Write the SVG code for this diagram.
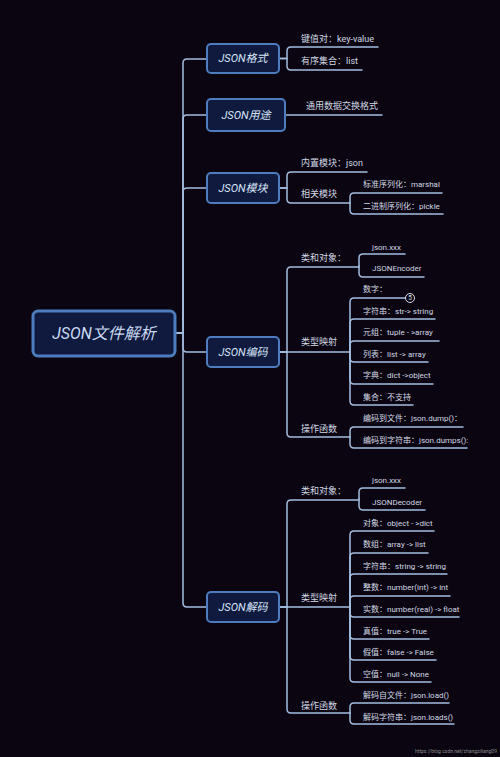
<svg xmlns="http://www.w3.org/2000/svg" width="500" height="757" viewBox="0 0 500 757">
<style>
.ln{fill:none;stroke:#a3bde0;stroke-width:1.5;stroke-linecap:round;stroke-linejoin:round}
.nd{fill:#0f1a3e;stroke:#4d7cbf;stroke-width:2}
text{font-family:Roboto,"Noto Sans CJK SC",sans-serif;dominant-baseline:central}
.t0{font-size:16px;font-style:italic;fill:#c9d9f2;text-anchor:middle}
.t1{font-size:11px;font-style:italic;fill:#d8e4f8;text-anchor:middle}
.t2{font-size:9px;fill:#d2d8e4}
.t3{font-size:8px;fill:#d2d8e4}
</style>
<rect width="500" height="757" fill="#0a0510"/>
<g id="connectors">
<path class="ln" d="M175,333 H183 V63 Q183,59 187,59 H207"/>
<path class="ln" d="M175,333 H183 V119 Q183,115 187,115 H207"/>
<path class="ln" d="M175,333 H183 V192 Q183,188 187,188 H207"/>
<path class="ln" d="M175,333 H183 V348 Q183,352 187,352 H207"/>
<path class="ln" d="M175,333 H183 V603 Q183,607 187,607 H207"/>
<path class="ln" d="M279,58.5 H287 V51 Q287,47 291,47 H378"/>
<path class="ln" d="M279,58.5 H287 V66 Q287,70 291,70 H362"/>
<path class="ln" d="M285,115 H382"/>
<path class="ln" d="M279,188 H287 V176 Q287,172 291,172 H367"/>
<path class="ln" d="M279,188 H287 V199 Q287,203 291,203 H350"/>
<path class="ln" d="M350,203 V197 Q350,193 354,193 H442"/>
<path class="ln" d="M350,203 V210 Q350,214 354,214 H443"/>
<path class="ln" d="M279,352 H287 V271 Q287,267 291,267 H359"/>
<path class="ln" d="M359,266 V258 Q359,254 363,254 H405"/>
<path class="ln" d="M359,266 V273 Q359,277 363,277 H424"/>
<path class="ln" d="M279,352 H350"/>
<path class="ln" d="M350,352 V302 Q350,298 354,298 H405.5"/>
<circle cx="410" cy="298" r="4.5" fill="#0a0510" stroke="#d8e0ee" stroke-width="1"/>
<text x="410" y="298.3" style="font-size:6.5px;fill:#d8e0ee;text-anchor:middle">5</text>
<path class="ln" d="M350,352 V323 Q350,319 354,319 H435"/>
<path class="ln" d="M350,352 V345 Q350,341 354,341 H439"/>
<path class="ln" d="M350,352 V358 Q350,362 354,362 H428"/>
<path class="ln" d="M350,352 V380 Q350,384 354,384 H433"/>
<path class="ln" d="M350,352 V401 Q350,405 354,405 H413"/>
<path class="ln" d="M279,352 H287 V433 Q287,437 291,437 H350"/>
<path class="ln" d="M350,437 V431 Q350,427 354,427 H463"/>
<path class="ln" d="M350,437 V444 Q350,448 354,448 H467"/>
<path class="ln" d="M279,607 H287 V504 Q287,500 291,500 H359"/>
<path class="ln" d="M359,499 V492 Q359,488 363,488 H405"/>
<path class="ln" d="M359,499 V506 Q359,510 363,510 H425"/>
<path class="ln" d="M279,607 H350"/>
<path class="ln" d="M350,607 V535 Q350,531 354,531 H434"/>
<path class="ln" d="M350,607 V557 Q350,553 354,553 H428"/>
<path class="ln" d="M350,607 V578 Q350,574 354,574 H447"/>
<path class="ln" d="M350,607 V600 Q350,596 354,596 H450"/>
<path class="ln" d="M350,607 V613 Q350,617 354,617 H459"/>
<path class="ln" d="M350,607 V635 Q350,639 354,639 H429"/>
<path class="ln" d="M350,607 V656 Q350,660 354,660 H436"/>
<path class="ln" d="M350,607 V678 Q350,682 354,682 H431"/>
<path class="ln" d="M279,607 H287 V709 Q287,713 291,713 H350"/>
<path class="ln" d="M350,713 V707 Q350,703 354,703 H449"/>
<path class="ln" d="M350,713 V720 Q350,724 354,724 H454"/>
</g>
<g id="root"><rect class="nd" x="33" y="311" width="142" height="45" rx="5" style="stroke-width:3"/><text class="t0" x="104" y="333.5">JSON文件解析</text></g>
<g id="n-format"><rect class="nd" x="207" y="44" width="72" height="29" rx="4"/><text class="t1" x="243" y="58.5">JSON格式</text></g>
<g id="n-use"><rect class="nd" x="207" y="99" width="78" height="32" rx="4"/><text class="t1" x="246" y="115">JSON用途</text></g>
<g id="n-module"><rect class="nd" x="207" y="173" width="72" height="30" rx="4"/><text class="t1" x="243" y="188">JSON模块</text></g>
<g id="n-encode"><rect class="nd" x="207" y="337" width="72" height="30" rx="4"/><text class="t1" x="243" y="352">JSON编码</text></g>
<g id="n-decode"><rect class="nd" x="207" y="592" width="72" height="30" rx="4"/><text class="t1" x="243" y="607">JSON解码</text></g>
<g id="format-items"><text class="t2" x="301" y="39">键值对：key-value</text><text class="t2" x="301" y="61">有序集合：list</text></g>
<g id="use-items"><text class="t2" x="306" y="106">通用数据交换格式</text></g>
<g id="module-items"><text class="t2" x="301" y="163">内置模块：json</text><text class="t2" x="301" y="194">相关模块</text>
<text class="t3" x="363" y="184">标准序列化：marshal</text><text class="t3" x="363" y="206">二进制序列化：pickle</text></g>
<g id="encode-items">
<text class="t2" x="301" y="258">类和对象：</text>
<text class="t3" x="372" y="247">json.xxx</text><text class="t3" x="372" y="268">JSONEncoder</text>
<text class="t2" x="301" y="342">类型映射</text>
<text class="t3" x="363" y="289">数字：</text>
<text class="t3" x="363" y="311">字符串：str-&gt; string</text>
<text class="t3" x="363" y="332">元组：tuple - &gt;array</text>
<text class="t3" x="363" y="354">列表：list -&gt; array</text>
<text class="t3" x="363" y="375">字典：dict -&gt;object</text>
<text class="t3" x="363" y="397">集合：不支持</text>
<text class="t2" x="301" y="429">操作函数</text>
<text class="t3" x="363" y="418">编码到文件：json.dump()：</text>
<text class="t3" x="363" y="440">编码到字符串：json.dumps():</text>
</g>
<g id="decode-items">
<text class="t2" x="301" y="491">类和对象：</text>
<text class="t3" x="372" y="480">json.xxx</text><text class="t3" x="372" y="502">JSONDecoder</text>
<text class="t2" x="301" y="598">类型映射</text>
<text class="t3" x="363" y="523">对象：object - &gt;dict</text>
<text class="t3" x="363" y="544">数组：array -&gt; list</text>
<text class="t3" x="363" y="566">字符串：string -&gt; string</text>
<text class="t3" x="363" y="587">整数：number(int) -&gt; int</text>
<text class="t3" x="363" y="609">实数：number(real) -&gt; float</text>
<text class="t3" x="363" y="631">真值：true -&gt; True</text>
<text class="t3" x="363" y="652">假值：false -&gt; False</text>
<text class="t3" x="363" y="674">空值：null -&gt; None</text>
<text class="t2" x="301" y="706">操作函数</text>
<text class="t3" x="363" y="695">解码自文件：json.load()</text>
<text class="t3" x="363" y="717">解码字符串：json.loads()</text>
</g>
<text x="497" y="751" style="font-size:5px;fill:#8a8a8a;text-anchor:end">https://blog.csdn.net/zhangziliang09</text>
</svg>
